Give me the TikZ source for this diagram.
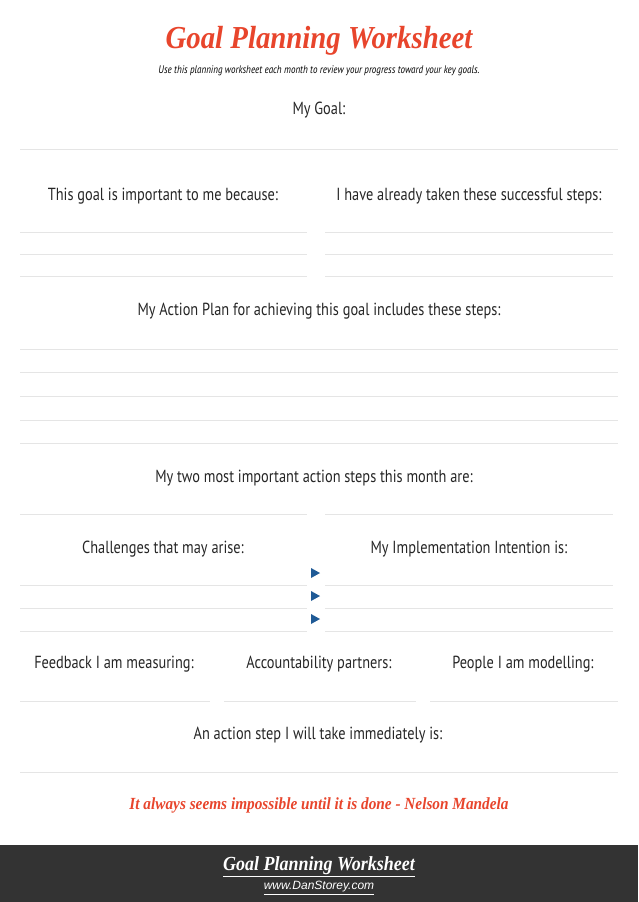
\documentclass[tikz,border=0pt]{standalone}
\usepackage{fontspec}
\setmainfont{PT Sans}[FakeStretch=0.82]
\newfontfamily\scriptf{Liberation Serif}[FakeStretch=0.9]
\begin{document}
\begin{tikzpicture}[x=1pt,y=-1pt,
  rule/.style={draw=black!10,line width=0.8pt},
  lbl/.style={font=\fontsize{17.5}{19}\selectfont,text=black!85},
  tri/.style={fill={rgb,255:red,31;green,90;blue,150},draw=none}]
\useasboundingbox (0,0) rectangle (638,902);
\fill[white] (0,0) rectangle (638,902);
\node (title) at (319,41) {\scriptf\fontsize{32}{34}\selectfont\bfseries\itshape\color[HTML]{E8452C}Goal Planning Worksheet};
\node (sub) at (319,71) {\itshape\fontsize{11}{13}\selectfont Use this planning worksheet each month to review your progress toward your key goals.};
\node[lbl] (g) at (319,110) {My Goal:};
\draw[rule] (20,149) -- (618,149);
\node[lbl] (a) at (163,196) {This goal is important to me because:};
\node[lbl] (b) at (469,196) {I have already taken these successful steps:};
\foreach \y in {232,254,276}{\draw[rule] (20,\y) -- (307,\y); \draw[rule] (325,\y) -- (613,\y);}
\node[lbl] (c) at (319,311) {My Action Plan for achieving this goal includes these steps:};
\foreach \y in {349,372,396,420,443}{\draw[rule] (20,\y) -- (618,\y);}
\node[lbl] (d) at (314,478) {My two most important action steps this month are:};
\draw[rule] (20,514) -- (307,514); \draw[rule] (325,514) -- (613,514);
\node[lbl] (e) at (163,549) {Challenges that may arise:};
\node[lbl] (f) at (469,549) {My Implementation Intention is:};
\foreach \y in {585,608,631}{\draw[rule] (20,\y) -- (307,\y); \draw[rule] (325,\y) -- (613,\y);}
\foreach \y in {573,596,619}{\fill[tri] (311,\y-5) -- (320,\y) -- (311,\y+5) -- cycle;}
\node[lbl] (h) at (114,664) {Feedback I am measuring:};
\node[lbl] (i) at (319,664) {Accountability partners:};
\node[lbl] (j) at (523,664) {People I am modelling:};
\draw[rule] (20,701) -- (210,701); \draw[rule] (224,701) -- (416,701); \draw[rule] (430,701) -- (618,701);
\node[lbl] (k) at (318,735) {An action step I will take immediately is:};
\draw[rule] (20,772) -- (618,772);
\node (q) at (319,805) {\scriptf\fontsize{17}{19}\selectfont\bfseries\itshape\color[HTML]{E8452C}It always seems impossible until it is done - Nelson Mandela};
\fill[black!80] (0,845) rectangle (638,902);
\node (ft) at (319,867) {\scriptf\fontsize{20}{22}\selectfont\bfseries\itshape\color{white}\underline{Goal Planning Worksheet}};
\node (url) at (319,888) {\fontspec{Liberation Sans}\itshape\fontsize{12}{14}\selectfont\color{white}\underline{www.DanStorey.com}};
\end{tikzpicture}
\end{document}
